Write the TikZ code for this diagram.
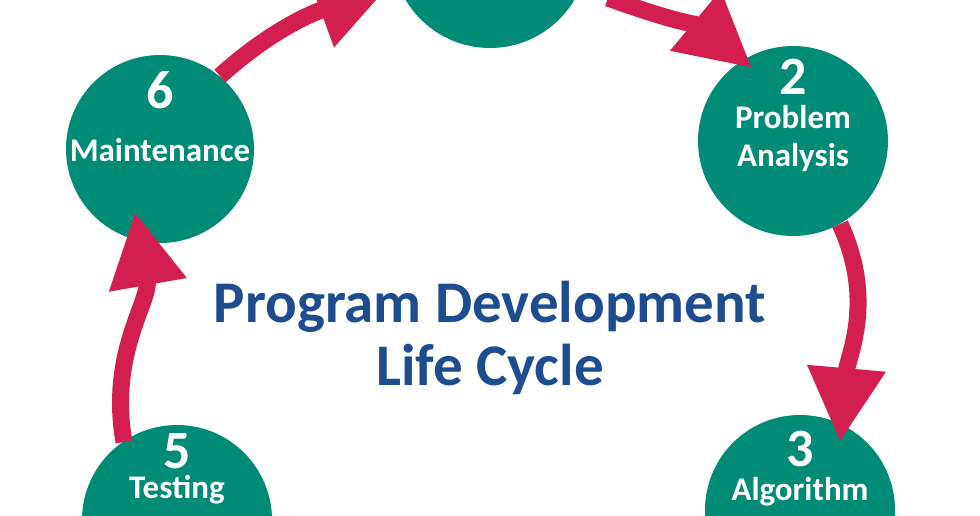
\documentclass[tikz,border=0pt]{standalone}
\usepackage{fontspec}
\setmainfont{Carlito}
\usetikzlibrary{arrows.meta}
\definecolor{teal1}{HTML}{008B76}
\definecolor{crim}{HTML}{D31F50}
\definecolor{navy}{HTML}{1D4C8F}
\tikzset{
 stage/.style={circle,fill=teal1,minimum size=#1,inner sep=0pt},
 num/.style={text=white,inner sep=0pt,font=\bfseries\fontsize{54}{54}\selectfont},
 lab/.style={text=white,inner sep=0pt,font=\bfseries\fontsize{33}{38}\selectfont,align=center},
 arr/.style={draw=crim,line width=17pt,-{Triangle[width=74pt,length=74pt]}},
}
\begin{document}
\begin{tikzpicture}[x=1pt,y=-1pt]
\useasboundingbox (0,0) rectangle (980,515);
\node[stage=196pt] (c1) at (490,-50) {};
\node[stage=190pt] (c2) at (793,141) {};
\node[stage=188pt] (c6) at (160,149) {};
\node[stage=190pt] (c3) at (800,510) {};
\node[stage=190pt] (c5) at (177,520) {};
\node[num] (n2) at (793,77) {2};
\node[lab] (l2) at (793,139) {Problem\\Analysis};
\node[num] (n6) at (160,90) {6};
\node[lab] (l6) at (160,150) {Maintenance};
\node[num] (n3) at (800,449) {3};
\node[lab] (l3) at (800,492) {Algorithm};
\node[num] (n5) at (177,451) {5};
\node[lab] (l5) at (177,490) {Testing};
\node[text=navy,font=\bfseries\fontsize{59}{63}\selectfont,align=center] (t) at (490,338) {Program Development\\Life Cycle};
\coordinate (a1s) at (608,-2);
\coordinate (a1e) at (752,68);
\coordinate (a2s) at (840,224);
\coordinate (a2e) at (840,442);
\coordinate (a5s) at (124,442);
\coordinate (a5e) at (135,212);
\coordinate (a6s) at (220,76);
\coordinate (a6e) at (390,-15);
\draw[arr] (a1s) to[out=-20,in=140] (a1e);
\draw[arr] (a2s) to[out=-65,in=85] (a2e);
\draw[arr] (a5s) to[out=100,in=-80] (a5e);
\draw[arr] (a6s) to[out=42,in=-160] (a6e);
\end{tikzpicture}
\end{document}
